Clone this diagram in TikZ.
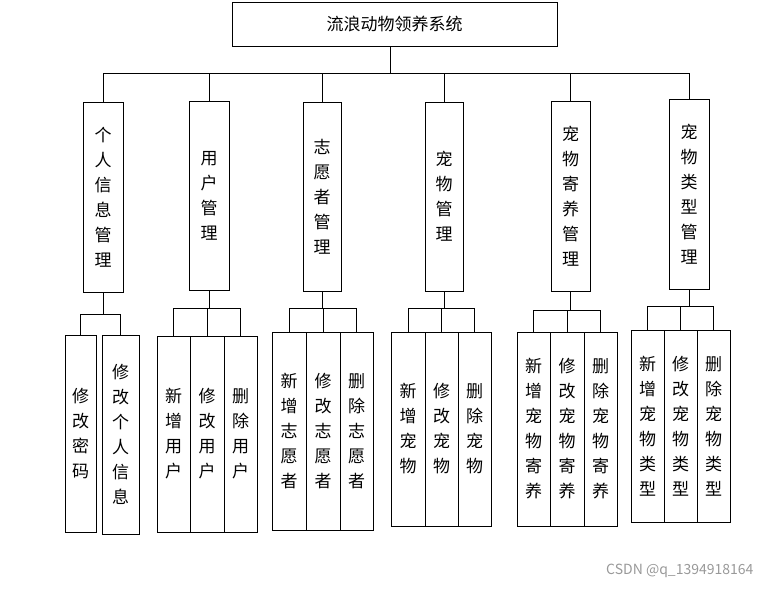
\documentclass[tikz,border=0pt]{standalone}
\usepackage{fontspec}
\setmainfont{Noto Sans CJK SC}
\begin{document}
\begin{tikzpicture}[x=1pt,y=-1pt,
  box/.style={draw,line width=0.8pt,inner sep=0pt,align=center,font=\fontsize{17}{25}\selectfont},
  ln/.style={line width=0.8pt}]
\useasboundingbox (0,0) rectangle (772,589);
\node[box,minimum width=325,minimum height=44] (top) at (394.5,24) {流浪动物领养系统};
\coordinate (tb) at (390,73);
\newcommand{\lvtwo}[6]{\node[box,minimum width=#3,minimum height=#4] (#1) at (#2,#5) {#6};}
\lvtwo{a}{103}{40}{190}{197}{个\\人\\信\\息\\管\\理}
\lvtwo{b}{209}{40}{189}{195.5}{用\\户\\管\\理}
\lvtwo{c}{322}{38}{189}{196.5}{志\\愿\\者\\管\\理}
\lvtwo{d}{444}{38}{189}{196.5}{宠\\物\\管\\理}
\lvtwo{e}{570.5}{39}{190}{196}{宠\\物\\寄\\养\\管\\理}
\lvtwo{f}{689}{40}{190}{194}{宠\\物\\类\\型\\管\\理}
\draw[ln] (top.south -| tb) -- (tb);
\draw[ln] (tb) -| (a.north); \draw[ln] (tb) -| (b.north); \draw[ln] (tb) -| (c.north);
\draw[ln] (tb) -| (d.north); \draw[ln] (tb) -| (e.north); \draw[ln] (tb) -| (f.north);
% level 3
\lvtwo{a1}{80.5}{31}{197}{433.5}{修\\改\\密\\码}
\lvtwo{a2}{120.5}{37}{199}{434.5}{修\\改\\个\\人\\信\\息}
\lvtwo{b1}{173.5}{33}{196}{434}{新\\增\\用\\户}
\lvtwo{b2}{207}{34}{196}{434}{修\\改\\用\\户}
\lvtwo{b3}{240.5}{33}{196}{434}{删\\除\\用\\户}
\lvtwo{c1}{289}{34}{198}{431}{新\\增\\志\\愿\\者}
\lvtwo{c2}{323}{34}{198}{431}{修\\改\\志\\愿\\者}
\lvtwo{c3}{356.5}{33}{198}{431}{删\\除\\志\\愿\\者}
\lvtwo{d1}{408}{34}{194}{429}{新\\增\\宠\\物}
\lvtwo{d2}{441.5}{33}{194}{429}{修\\改\\宠\\物}
\lvtwo{d3}{474.5}{33}{194}{429}{删\\除\\宠\\物}
\lvtwo{e1}{533.5}{33}{194}{429}{新\\增\\宠\\物\\寄\\养}
\lvtwo{e2}{567}{34}{194}{429}{修\\改\\宠\\物\\寄\\养}
\lvtwo{e3}{600.5}{33}{194}{429}{删\\除\\宠\\物\\寄\\养}
\lvtwo{f1}{647.5}{33}{192}{426}{新\\增\\宠\\物\\类\\型}
\lvtwo{f2}{680.5}{33}{192}{426}{修\\改\\宠\\物\\类\\型}
\lvtwo{f3}{713.5}{33}{192}{426}{删\\除\\宠\\物\\类\\型}
\coordinate (ab) at (103,314);
\draw[ln] (a.south) -- (ab); \draw[ln] (ab) -| (a1.north); \draw[ln] (ab) -| (a2.north);
\foreach \p/\y in {b/308,c/308,d/308,e/310,f/306}{
  \coordinate (\p bus) at (\p.south |- 0,\y);
  \draw[ln] (\p.south) -- (\p bus);
  \draw[ln] (\p bus) -| (\p1.north); \draw[ln] (\p bus) -| (\p2.north); \draw[ln] (\p bus) -| (\p3.north);
}
\node[font=\fontsize{14}{16}\selectfont,text=gray!80,anchor=east] (wm) at (757,571) {CSDN @q\_1394918164};
\end{tikzpicture}
\end{document}
